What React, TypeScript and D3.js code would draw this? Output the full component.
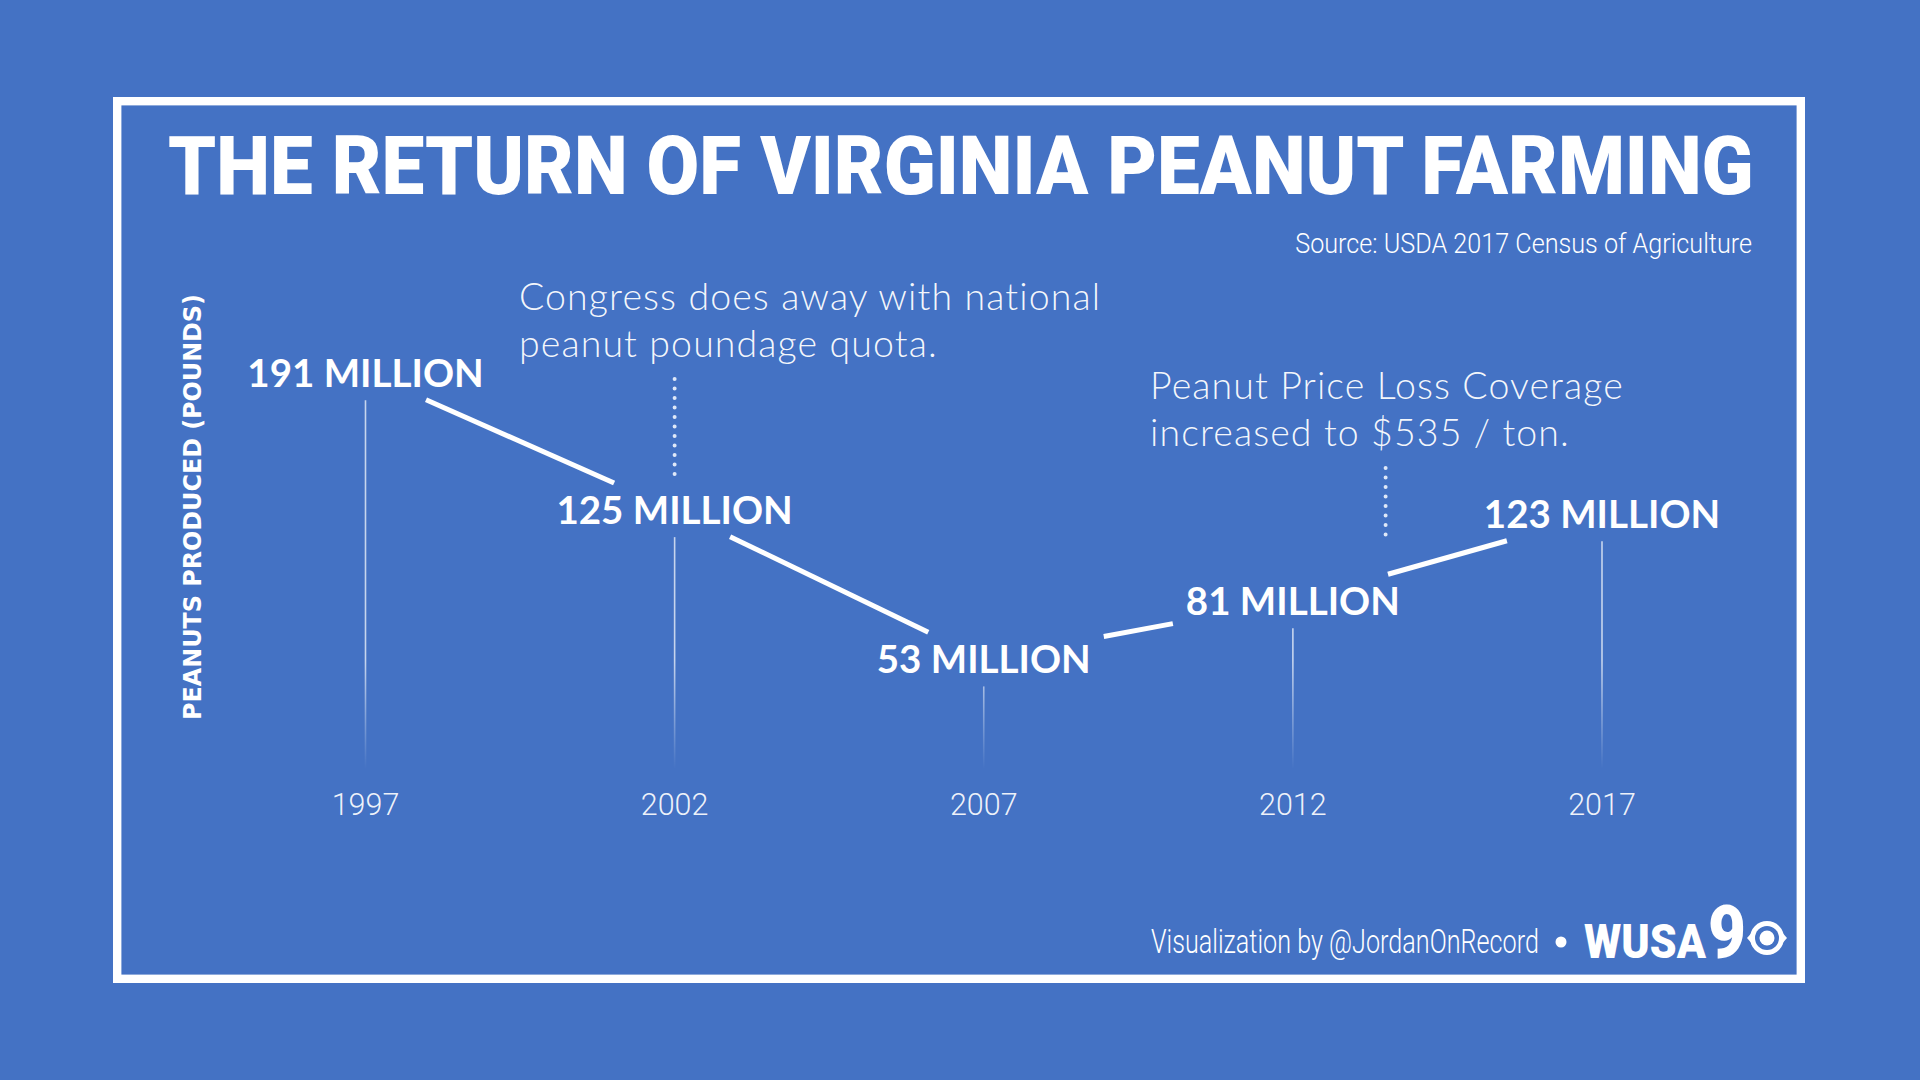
import React, { useEffect, useRef } from "react";
import * as d3 from "d3";

// ---- data ----
const years = [1997, 2002, 2007, 2012, 2017];
const production = [191, 125, 53, 81, 123]; // millions of pounds
const valueSuffix = " MILLION";
const annotationYears = [2002, 2013.5];
const annotationLines = [
  ["Congress does away with national", "peanut poundage quota."],
  ["Peanut Price Loss Coverage", "increased to $535 / ton."],
];
const titleText = "THE RETURN OF VIRGINIA PEANUT FARMING";
const sourceText = "Source: USDA 2017 Census of Agriculture";
const yAxisTitle = "PEANUTS PRODUCED (POUNDS)";
const creditText = "Visualization by @JordanOnRecord";

// ---- layout ----
const W = 1920;
const H = 1080;
const BG = "#4472c4";
const LABEL_FS = 38.5;
const CAP = 0.7165 * LABEL_FS;
const annotationLayout = [
  { textX: 519, baseline: 310 },
  { textX: 1150, baseline: 399 },
];

type Sel = d3.Selection<SVGTextElement, unknown, null, undefined>;

// squeeze a text horizontally (along its own direction) to a target width
function fitText(sel: Sel, pre: string, width: number) {
  const natural = (sel.node() as SVGTextElement).getComputedTextLength();
  const sx = natural > 0 ? width / natural : 1;
  sel.attr("transform", `${pre} scale(${sx},1)`);
}

export default function App() {
  const ref = useRef<SVGSVGElement>(null);

  useEffect(() => {
    const svg = d3.select(ref.current);
    svg.selectAll("*").remove();

    const x = d3.scaleLinear().domain([1997, 2017]).range([365.5, 1602]);
    const y = d3.scaleLinear().domain([0, 191]).range([769, 373]);

    svg.append("rect").attr("width", W).attr("height", H).attr("fill", BG);
    svg
      .append("rect")
      .attr("x", 117.2)
      .attr("y", 101.2)
      .attr("width", 1683.6)
      .attr("height", 877.6)
      .attr("fill", "none")
      .attr("stroke", "#fff")
      .attr("stroke-width", 8.4);

    // title
    const title = svg
      .append("text")
      .attr("font-family", "Roboto, sans-serif")
      .attr("font-weight", 900)
      .attr("font-size", 81)
      .attr("fill", "#fff")
      .text(titleText) as unknown as Sel;
    fitText(title, "translate(168,193.5)", 1586);

    // source
    const source = svg
      .append("text")
      .attr("text-anchor", "end")
      .attr("font-family", "Roboto, sans-serif")
      .attr("font-weight", 300)
      .attr("font-size", 28.5)
      .attr("fill", "#fff")
      .text(sourceText) as unknown as Sel;
    fitText(source, "translate(1752,253)", 457);

    // y-axis title
    const yt = svg
      .append("text")
      .attr("text-anchor", "middle")
      .attr("font-family", "'DejaVu Sans', sans-serif")
      .attr("font-weight", 700)
      .attr("font-size", 24)
      .attr("fill", "#fff")
      .text(yAxisTitle) as unknown as Sel;
    fitText(yt, "translate(201,507) rotate(-90)", 426);

    // gradient for stems
    const defs = svg.append("defs");
    const grad = defs
      .append("linearGradient")
      .attr("id", "stemFade")
      .attr("gradientUnits", "userSpaceOnUse")
      .attr("x1", 0)
      .attr("x2", 0)
      .attr("y1", 660)
      .attr("y2", y(0));
    grad.append("stop").attr("offset", 0).attr("stop-color", "#fff").attr("stop-opacity", 0.7);
    grad.append("stop").attr("offset", 1).attr("stop-color", "#fff").attr("stop-opacity", 0);

    const pts = years.map((yr, i) => ({ px: x(yr), py: y(production[i]), v: production[i], yr }));

    // stems
    svg
      .append("g")
      .selectAll("line")
      .data(pts)
      .join("line")
      .attr("x1", (d) => d.px)
      .attr("x2", (d) => d.px)
      .attr("y1", (d) => d.py + CAP / 2 + 13.5)
      .attr("y2", y(0))
      .attr("stroke", "url(#stemFade)")
      .attr("stroke-width", 1.6);

    // value labels
    const labels = svg
      .append("g")
      .selectAll("text")
      .data(pts)
      .join("text")
      .attr("x", (d) => d.px)
      .attr("y", (d) => d.py + CAP / 2)
      .attr("text-anchor", "middle")
      .attr("font-family", "Lato, 'Open Sans', sans-serif")
      .attr("font-weight", 700)
      .attr("font-size", LABEL_FS)
      .attr("fill", "#fff")
      .text((d) => `${d.v}${valueSuffix}`);

    const pad = 13;
    const boxes = labels.nodes().map((n, i) => {
      const b = (n as SVGTextElement).getBBox();
      const base = pts[i].py + CAP / 2;
      return { x0: b.x - pad, x1: b.x + b.width + pad, y0: base - CAP - pad, y1: base + pad };
    });

    const exitT = (px: number, py: number, dx: number, dy: number, b: any) => {
      const tx = dx > 0 ? (b.x1 - px) / dx : dx < 0 ? (b.x0 - px) / dx : Infinity;
      const ty = dy > 0 ? (b.y1 - py) / dy : dy < 0 ? (b.y0 - py) / dy : Infinity;
      return Math.min(tx, ty);
    };

    const segs = d3.pairs(pts).map(([a, b], i) => {
      const dx = b.px - a.px;
      const dy = b.py - a.py;
      const t0 = exitT(a.px, a.py, dx, dy, boxes[i]);
      const s1 = exitT(b.px, b.py, -dx, -dy, boxes[i + 1]);
      const t1 = 1 - s1;
      return {
        x1: a.px + dx * t0,
        y1: a.py + dy * t0,
        x2: a.px + dx * t1,
        y2: a.py + dy * t1,
      };
    });

    svg
      .append("g")
      .selectAll("line")
      .data(segs)
      .join("line")
      .attr("x1", (d) => d.x1)
      .attr("y1", (d) => d.y1)
      .attr("x2", (d) => d.x2)
      .attr("y2", (d) => d.y2)
      .attr("stroke", "#fff")
      .attr("stroke-width", 5);

    // annotations
    const yAt = (yr: number) => {
      for (let i = 0; i < years.length - 1; i++) {
        if (yr >= years[i] && yr <= years[i + 1]) {
          const t = (yr - years[i]) / (years[i + 1] - years[i]);
          return y(production[i]) + t * (y(production[i + 1]) - y(production[i]));
        }
      }
      return y(production[0]);
    };

    annotationYears.forEach((yr, j) => {
      const lay = annotationLayout[j];
      const ax = x(yr);
      const t = svg
        .append("text")
        .attr("font-family", "Lato, sans-serif")
        .attr("font-weight", 300)
        .attr("font-size", 37.5)
        .attr("letter-spacing", 1.1)
        .attr("fill", "#fff")
        .attr("fill-opacity", 0.95);
      annotationLines[j].forEach((ln, k) => {
        t.append("tspan")
          .attr("x", lay.textX)
          .attr("y", lay.baseline + k * 47)
          .text(ln);
      });
      const top = lay.baseline + 47 + 22;
      const bottom = yAt(yr) - 33;
      svg
        .append("line")
        .attr("x1", ax)
        .attr("x2", ax)
        .attr("y1", top)
        .attr("y2", bottom)
        .attr("stroke", "#dfe8f8")
        .attr("stroke-width", 4)
        .attr("stroke-linecap", "round")
        .attr("stroke-dasharray", "0 9.5");
    });

    // year labels
    svg
      .append("g")
      .selectAll("text")
      .data(years)
      .join("text")
      .attr("x", (d) => x(d))
      .attr("y", 815)
      .attr("text-anchor", "middle")
      .attr("font-family", "Roboto, sans-serif")
      .attr("font-weight", 300)
      .attr("font-size", 30.5)
      .attr("fill", "#fff")
      .attr("fill-opacity", 0.92)
      .text((d) => String(d));

    // footer credit
    const credit = svg
      .append("text")
      .attr("font-family", "Roboto, sans-serif")
      .attr("font-weight", 300)
      .attr("font-size", 33)
      .attr("fill", "#fff")
      .text(creditText) as unknown as Sel;
    fitText(credit, "translate(1151,953)", 388);
    svg.append("circle").attr("cx", 1561).attr("cy", 942).attr("r", 5.5).attr("fill", "#fff");

    // logo
    const logo = svg.append("g").attr("fill", "#fff");
    const wusa = logo
      .append("text")
      .attr("font-family", "Roboto, sans-serif")
      .attr("font-weight", 900)
      .attr("font-size", 49)
      .text("WUSA") as unknown as Sel;
    fitText(wusa, "translate(1584,958)", 122);
    const nine = logo
      .append("text")
      .attr("font-family", "Roboto, sans-serif")
      .attr("font-weight", 900)
      .attr("font-size", 74)
      .text("9") as unknown as Sel;
    fitText(nine, "translate(1708,958)", 38);
    logo.append("path").attr("d", "M1747,938 Q1767,912 1787,938 Q1767,964 1747,938 Z");
    logo.append("circle").attr("cx", 1767).attr("cy", 938).attr("r", 17);
    svg.append("circle").attr("cx", 1767).attr("cy", 938).attr("r", 12).attr("fill", BG);
    svg.append("circle").attr("cx", 1767).attr("cy", 938).attr("r", 7.5).attr("fill", "#fff");
  }, []);

  return (
    <svg
      ref={ref}
      width={W}
      height={H}
      style={{ position: "absolute", left: 0, top: 0, display: "block" }}
    />
  );
}
